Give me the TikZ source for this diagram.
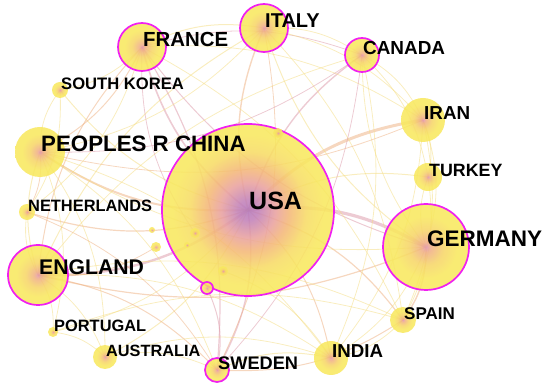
\documentclass[tikz,border=0pt]{standalone}
\usepackage{fontspec}
\setmainfont{Liberation Sans}
\usepackage{xcolor}
\usepackage{tikz}
\usetikzlibrary{backgrounds}
\definecolor{HubRing}{HTML}{F020F0}
\definecolor{NodeYellow}{HTML}{F8E860}
\definecolor{NodeOrange}{HTML}{F4B878}
\definecolor{NodePink}{HTML}{E498B0}
\definecolor{NodePurple}{HTML}{B478BC}
\definecolor{LinkYellow}{HTML}{F4DC80}
\definecolor{LinkOrange}{HTML}{EEB080}
\definecolor{LinkPink}{HTML}{DC98A8}
\pgfdeclareradialshading{usaglow}{\pgfpoint{0bp}{0bp}}{color(0bp)=(NodePurple);
  color(3bp)=(NodePurple!70!NodePink);color(8bp)=(NodePink!70!NodeOrange);color(12bp)=(NodeOrange);
  color(17bp)=(NodeYellow!75!NodeOrange);color(22bp)=(NodeYellow);color(50bp)=(NodeYellow)}
\pgfdeclareradialshading{nodeglow}{\pgfpoint{0bp}{0bp}}{color(0bp)=(NodePink);
  color(3bp)=(NodeOrange!75!NodePink);color(10bp)=(NodeYellow!60!NodeOrange);
  color(18bp)=(NodeYellow);color(50bp)=(NodeYellow)}
\tikzset{
  country/.style={circle,inner sep=0pt,shading=nodeglow,fill opacity=0.88,minimum size=#1},
  hub/.style={country=#1,draw=HubRing,line width=1.7pt},
  tag/.style={font=\fontsize{#1}{#1}\selectfont\bfseries,inner sep=0pt,anchor=base west,xshift=1pt},
  link/.style={line width=0.7pt,draw opacity=0.5}
}

\begin{document}
\begin{tikzpicture}[x=1pt,y=-1pt]
  \useasboundingbox (0,0) rectangle (550,390);
  \node[hub=172,shading=usaglow] (usa) at (248,210) {};
  \node[hub=86] (germany) at (426,247) {};
  \node[hub=60] (england) at (38,275) {};
  \node[country=50] (china) at (40,152) {};
  \node[hub=48] (france) at (142,47) {};
  \node[hub=48] (italy) at (264,28) {};
  \node[hub=34] (canada) at (362,55) {};
  \node[country=44] (iran) at (423,120) {};
  \node[country=28] (turkey) at (428,177) {};
  \node[country=16] (korea) at (60,90) {};
  \node[country=16] (netherlands) at (27,212) {};
  \node[country=10] (portugal) at (53,332) {};
  \node[country=24] (australia) at (105,357) {};
  \node[hub=24] (sweden) at (217,370) {};
  \node[country=34] (india) at (331,358) {};
  \node[country=26] (spain) at (403,320) {};
  % small unlabelled countries
  \node[country=10] (dotA) at (195,233) {};
  \node[country=10] (dotB) at (156,247) {};
  \node[country=6] (dotC) at (187,245) {};
  \node[country=10] (dotD) at (223,271) {};
  \node[country=6] (dotE) at (152,230) {};
  \node[country=10] (dotF) at (278,133) {};
  \node[hub=12] (dotG) at (207,288) {};
  \begin{scope}[on background layer]
    \foreach \a/\b/\c/\w in {usa/germany/LinkPink/3.2,usa/iran/LinkOrange/3,usa/england/LinkPink/2.4,
      usa/china/LinkOrange/2,usa/france/LinkPink/1.6,usa/italy/LinkOrange/1.4,usa/canada/LinkPink/1.4,
      usa/netherlands/LinkOrange/1.2,usa/sweden/LinkPink/1.4,usa/india/LinkOrange/1,usa/spain/LinkOrange/1.2,
      usa/australia/LinkYellow/1,usa/turkey/LinkYellow/1,usa/korea/LinkYellow/1,usa/portugal/LinkYellow/0.8,
      germany/england/LinkOrange/1.2,germany/france/LinkPink/1,germany/italy/LinkYellow/1,germany/china/LinkYellow/0.8,
      germany/spain/LinkOrange/1.4,germany/canada/LinkYellow/0.8,germany/turkey/LinkYellow/0.8,germany/india/LinkYellow/0.8,
      england/france/LinkOrange/1,england/italy/LinkYellow/1,england/china/LinkYellow/1,england/sweden/LinkOrange/1,
      england/netherlands/LinkYellow/0.8,england/australia/LinkYellow/0.8,england/portugal/LinkYellow/0.8,
      england/india/LinkYellow/0.8,england/spain/LinkYellow/0.8,england/canada/LinkYellow/0.8,
      france/italy/LinkYellow/1,france/canada/LinkPink/0.8,france/sweden/LinkPink/1.2,france/china/LinkOrange/1,
      france/spain/LinkYellow/0.8,france/korea/LinkYellow/0.8,france/iran/LinkYellow/0.8,france/netherlands/LinkYellow/0.8,
      italy/canada/LinkYellow/0.8,italy/iran/LinkYellow/0.8,italy/china/LinkYellow/0.8,
      italy/spain/LinkYellow/0.8,italy/sweden/LinkOrange/0.8,canada/iran/LinkYellow/0.8,canada/china/LinkPink/0.8,
      canada/sweden/LinkPink/0.8,canada/india/LinkYellow/0.8,canada/turkey/LinkYellow/0.8,iran/turkey/LinkYellow/1,
      iran/india/LinkYellow/0.8,iran/spain/LinkYellow/0.8,iran/germany/LinkYellow/0.8,
      iran/china/LinkOrange/0.8,china/korea/LinkYellow/0.8,china/netherlands/LinkOrange/0.8,china/australia/LinkYellow/0.8,
      china/india/LinkYellow/0.8,china/sweden/LinkYellow/0.8,china/portugal/LinkYellow/0.8,korea/netherlands/LinkYellow/0.8,
      sweden/india/LinkYellow/1,spain/india/LinkYellow/0.8,spain/sweden/LinkOrange/1,turkey/spain/LinkYellow/0.8,
      australia/sweden/LinkYellow/0.8,portugal/spain/LinkYellow/0.8,netherlands/sweden/LinkOrange/0.8,
      australia/india/LinkYellow/0.8,portugal/australia/LinkYellow/0.8,
      dotG/sweden/LinkPink/1,dotB/england/LinkOrange/0.8,dotA/france/LinkPink/0.8,dotD/india/LinkYellow/0.8}
      \draw[link,draw=\c,line width=\w] (\a.center) to[bend left=18] (\b.center);
  \end{scope}
  \node[tag=25] (usaL) at (usa.center) {USA};
  \node[tag=22.5] (germanyL) at (germany.center) {GERMANY};
  \node[tag=21.2] (englandL) at (england.center) {ENGLAND};
  \node[tag=22.3] (chinaL) at (china.center) {PEOPLES R CHINA};
  \node[tag=20.4] (franceL) at (france.center) {FRANCE};
  \node[tag=20] (italyL) at (italy.center) {ITALY};
  \node[tag=18.9] (canadaL) at (canada.center) {CANADA};
  \node[tag=18.8] (iranL) at (iran.center) {IRAN};
  \node[tag=17.8] (turkeyL) at (turkey.center) {TURKEY};
  \node[tag=16.6] (koreaL) at (korea.center) {SOUTH KOREA};
  \node[tag=16.4] (netherlandsL) at (netherlands.center) {NETHERLANDS};
  \node[tag=16.4] (portugalL) at (portugal.center) {PORTUGAL};
  \node[tag=16.3] (australiaL) at (australia.center) {AUSTRALIA};
  \node[tag=18.2] (swedenL) at (sweden.center) {SWEDEN};
  \node[tag=18.7] (indiaL) at (india.center) {INDIA};
  \node[tag=17] (spainL) at (spain.center) {SPAIN};
\end{tikzpicture}
\end{document}
